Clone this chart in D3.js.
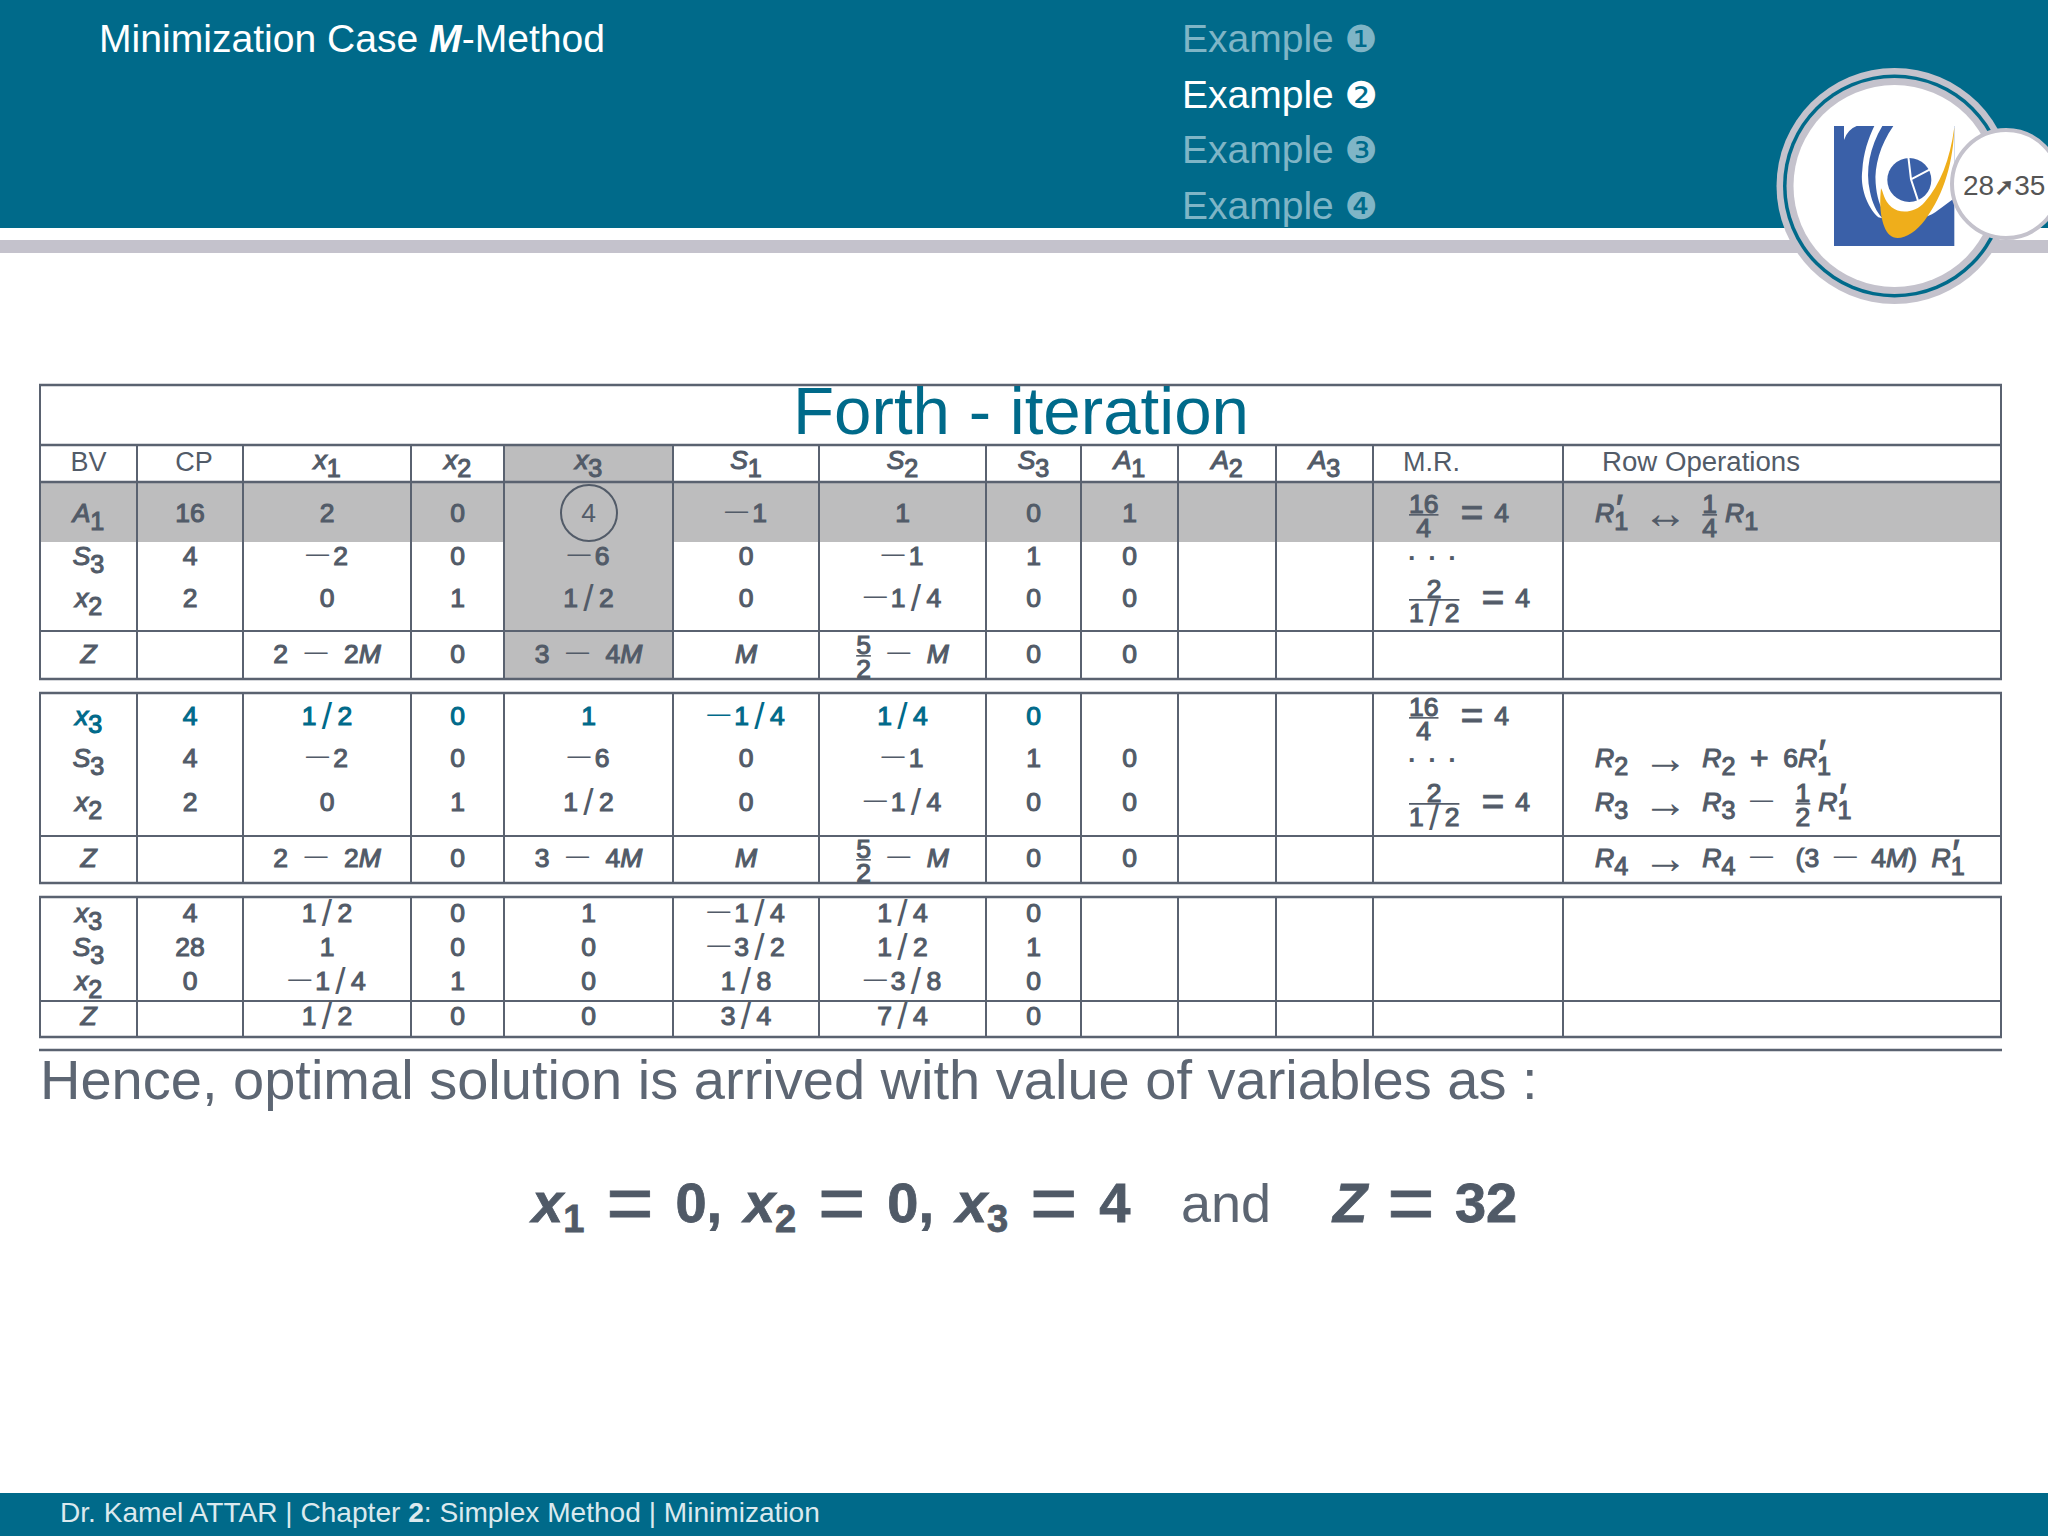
<!DOCTYPE html>
<html><head><meta charset="utf-8">
<script src="https://cdn.jsdelivr.net/npm/d3@7"></script>
<style>html,body{margin:0;padding:0;background:#fff}svg{display:block}</style>
</head><body><svg id="c" width="2048" height="1536"></svg>
<script>
// ---- content ----
const sectionTitle = ["Minimization Case ", "M", "-Method"];
const navItems = [["Example ","❶"],["Example ","❷"],["Example ","❸"],["Example ","❹"]];
const activeNav = 1;
const pageLabel = ["28","➚","35"];
const footerParts = ["Dr. Kamel ATTAR | Chapter ","2",": Simplex Method | Minimization"];
const tableTitle = "Forth - iteration";
const columns = ["BV","CP","x_1","x_2","x_3","S_1","S_2","S_3","A_1","A_2","A_3","M.R.","Row Operations"];
const tableau1 = [
 ["A_1","16","2","0","4","—1","1","0","1","","","{16/4}  = 4","R′_1 ↔ {1/4}~R_1"],
 ["S_3","4","—2","0","—6","0","—1","1","0","","","· · ·",""],
 ["x_2","2","0","1","1/2","0","—1/4","0","0","","","{2/1/2}  = 4",""],
 ["Z","","2 — 2M","0","3 — 4M","M","{5/2} — M","0","0","","","",""]
];
const tableau2 = [
 ["x_3","4","1/2","0","1","—1/4","1/4","0","","","","{16/4}  = 4",""],
 ["S_3","4","—2","0","—6","0","—1","1","0","","","· · ·","R_2 → R_2 + 6R′_1"],
 ["x_2","2","0","1","1/2","0","—1/4","0","0","","","{2/1/2}  = 4","R_3 → R_3 — ~{1/2}~R′_1"],
 ["Z","","2 — 2M","0","3 — 4M","M","{5/2} — M","0","0","","","","R_4 → R_4 — ~(3 — 4M) R′_1"]
];
const tableau3 = [
 ["x_3","4","1/2","0","1","—1/4","1/4","0","","","","",""],
 ["S_3","28","1","0","0","—3/2","1/2","1","","","","",""],
 ["x_2","0","—1/4","1","0","1/8","—3/8","0","","","","",""],
 ["Z","","1/2","0","0","3/4","7/4","0","","","","",""]
];
const conclusion = "Hence, optimal solution is arrived with value of variables as :";
const resultA = "x_1 = 0, x_2 = 0, x_3 = 4";
const resultWord = "and";
const resultB = "Z = 32";

// ---- layout ----
const columnEdges = [40,137,243,411,504,673,819,986,1081,1178,1276,1373,1563,2001];
const headerRowY = 462;
const rowCenters1 = [513,556,598,654];
const rowCenters2 = [716,758,802,858];
const rowCenters3 = [913,947,981,1016];
const teal="#006a8a", ink="#525b68", lineInk="#5a6270", grey="#bdbdbe", barGrey="#c4c2cc";
const FF='"Liberation Sans"';

const svg=d3.select("#c");
const xEdge=d3.scaleOrdinal(d3.range(columnEdges.length),columnEdges);
const xCenter=i=>(xEdge(i)+xEdge(i+1))/2;
const ctx=document.createElement("canvas").getContext("2d");
const widthOf=(s,fs,style="",weight="normal",fam=FF)=>{ctx.font=`${style} ${weight} ${fs}px ${fam}`;return ctx.measureText(s).width;};
const fit=(s,w,weight="normal")=>100*w/widthOf(s,100,"",weight);

// ---- chrome ----
svg.append("rect").attr("width",2048).attr("height",228).attr("fill",teal);
svg.append("rect").attr("y",240).attr("width",2048).attr("height",13).attr("fill",barGrey);
svg.append("rect").attr("y",1493).attr("width",2048).attr("height",43).attr("fill",teal);

const plain=(s,x,y,fs,fill,anchor="start",weight="normal")=>svg.append("text").text(s).attr("x",x).attr("y",y)
  .attr("font-family",FF).attr("font-size",fs).attr("fill",fill).attr("text-anchor",anchor).attr("font-weight",weight);

// section title
const st=svg.append("text").attr("x",99).attr("y",52).attr("font-family",FF).attr("font-size",39.1).attr("fill","#fff");
st.append("tspan").text(sectionTitle[0]);
st.append("tspan").text(sectionTitle[1]).attr("font-style","italic").attr("font-weight","bold");
st.append("tspan").text(sectionTitle[2]);
// nav
const navY=d3.scaleLinear().domain([0,3]).range([52,219]);
navItems.forEach((d,i)=>{
  const t=svg.append("text").attr("x",1182).attr("y",navY(i)).attr("font-family",FF).attr("font-size",39)
    .attr("fill",i===activeNav?"#fff":"#7fb5c6");
  t.append("tspan").text(d[0]);
  t.append("tspan").text(d[1]).attr("font-family",'"DejaVu Sans"').attr("font-size",37);
});
// footer
const ft=svg.append("text").attr("x",60).attr("y",1522).attr("font-family",FF).attr("font-size",28.1).attr("fill","#dbe9ee");
ft.append("tspan").text(footerParts[0]);
ft.append("tspan").text(footerParts[1]).attr("font-weight","bold");
ft.append("tspan").text(footerParts[2]);

// logo
const logo=svg.append("g");
const cx=1894.5,cy=186;
[[118,barGrey],[111.5,teal],[108,barGrey],[101,"#fff"]].forEach(([r,f])=>logo.append("circle").attr("cx",cx).attr("cy",cy).attr("r",r).attr("fill",f));
const lg=logo.append("g").attr("transform","translate(1825,120) scale(0.3333)");
lg.append("rect").attr("x",27).attr("y",18).attr("width",361).attr("height",360).attr("fill","#3a60a8");
lg.append("path").attr("fill","#fff").attr("d","M57,18 L95,18 Q68,28 57,60 Z");
lg.append("path").attr("fill","#fff").attr("d","M148,18 L172,18 C135,80 120,150 135,215 C142,250 155,275 172,295 L160,292 C125,260 105,200 112,150 C115,100 130,55 148,18 Z");
lg.append("path").attr("fill","#fff").attr("d","M205,18 C165,75 148,140 152,190 C155,230 165,260 180,285 L300,292 C330,282 350,262 388,235 L388,18 Z");
lg.append("circle").attr("cx",253).attr("cy",180).attr("r",66).attr("fill","#3a60a8");
lg.append("path").attr("fill","none").attr("stroke","#fff").attr("stroke-width",6).attr("d","M250,110 L258,178 L280,245 M258,178 L315,148");
lg.append("path").attr("fill","#efae1b").attr("d","M388,22 C385,120 360,220 300,300 C270,340 230,362 205,352 C175,340 160,280 168,205 C175,215 175,240 200,262 C225,282 270,280 300,245 C345,195 375,120 388,22 Z");
logo.append("circle").attr("cx",2006).attr("cy",184).attr("r",54).attr("fill","#fff").attr("stroke",barGrey).attr("stroke-width",4);
const pl=svg.append("text").attr("x",1963).attr("y",195).attr("font-family",FF).attr("font-size",28).attr("fill","#555");
pl.append("tspan").text(pageLabel[0]);
pl.append("tspan").text(pageLabel[1]).attr("font-family",'"DejaVu Sans"').attr("font-size",24).attr("stroke","#555").attr("stroke-width",.6);
pl.append("tspan").text(pageLabel[2]);

// ---- highlights ----
svg.append("rect").attr("x",xEdge(0)).attr("y",482).attr("width",xEdge(13)-xEdge(0)).attr("height",60).attr("fill",grey);
svg.append("rect").attr("x",xEdge(4)).attr("y",445).attr("width",xEdge(5)-xEdge(4)).attr("height",234).attr("fill",grey);

// ---- grid ----
const hLine=(y,w=2)=>svg.append("line").attr("x1",xEdge(0)-1).attr("x2",xEdge(13)+1).attr("y1",y).attr("y2",y).attr("stroke",lineInk).attr("stroke-width",w);
const vLine=(x,y1,y2,w=2)=>svg.append("line").attr("x1",x).attr("x2",x).attr("y1",y1).attr("y2",y2).attr("stroke",lineInk).attr("stroke-width",w);
[[385,2.5],[445,2.5],[482,2.5],[631,2],[679,2.5],[693,2.5],[836,2],[883,2.5],[897,2.5],[1001,2],[1037,2.5],[1050,2.5]].forEach(d=>hLine(d[0],d[1]));
[[445,679],[693,883],[897,1037]].forEach(([a,b])=>d3.range(columnEdges.length).forEach(i=>vLine(xEdge(i),a,b)));
vLine(xEdge(0),385,445);vLine(xEdge(13),385,445);

// ---- math text ----
const italics=/[xSARZM]/;
const ops={"=":{k:1.45,plainWeight:1},"→":{k:1.7,thin:1},"↔":{k:1.7,thin:1},"/":{k:1.4,pad:.2,thin:1},"+":{k:1.2},"—":{k:.87,dy:-.08,thin:1}};
function tokens(s){return s.match(/\{[^}]*\}|_\d|′|~|\s+|./g)||[];}
function layout(s,fs,o,x0,y,out){
  let x=x0,lastBase=x0,prime=false;
  const toks=tokens(s);
  toks.forEach((t,i)=>{
    if(t[0]==="{"){
      const inner=t.slice(1,-1),j=inner.indexOf("/");
      const num=inner.slice(0,j),den=inner.slice(j+1);
      const wn=layout(num,fs,o,0,0,[]),wd=layout(den,fs,o,0,0,[]);
      const w=Math.max(wn,wd),bar=y-.26*fs;
      layout(num,fs,o,x+(w-wn)/2,bar-.08*fs,out);
      layout(den,fs,o,x+(w-wd)/2,bar+.84*fs,out);
      out.push({bar:1,x1:x,x2:x+w,y:bar});
      x+=w;
    } else if(t==="~"){ x+=.3*fs; }
    else if(/^\s+$/.test(t)){ x+=t.length*(o.space||.62)*fs; }
    else if(t[0]==="_"){
      const sf=fs*(o.sub||.95), dx=prime?lastBase:x;
      out.push({s:t[1],x:dx,y:y+fs*(o.subDy||.3),fs:sf,w:o.weight});
      x=Math.max(x,dx+widthOf(t[1],sf)); prime=false;
    } else if(t==="′"){
      lastBase=x; out.push({s:"′",x:x,y:y-.02*fs,fs:fs*1.4,it:1,w:o.weight}); x+=.3*fs; prime=true;
    } else if(ops[t]){
      const p=ops[t],sf=fs*p.k,pad=(p.pad||0)*fs;
      out.push({s:t,x:x+pad,y:y+fs*(.36*(p.k-1)+(p.dy||0)),fs:sf,thin:p.thin,w:p.plainWeight?"normal":o.weight});
      x+=widthOf(t,sf)+2*pad;
      if(t==="—"&&toks[i+1]&&/\d/.test(toks[i+1])) x+=.15*fs;
    } else if(italics.test(t)){
      out.push({s:t,x:x,y:y,fs:fs,it:1,w:o.weight});
      x+=widthOf(t,fs,"italic",o.weight);
    } else {
      out.push({s:t,x:x,y:y,fs:fs,w:o.weight});
      x+=widthOf(t,fs,"",o.weight);
    }
    if(t!=="′"&&t[0]!=="_") prime=false;
  });
  return x-x0;
}
function math(s,x,y,fs,fill,o={}){
  if(!s) return;
  const probe=layout(s,fs,o,0,0,[]);
  const start=o.left?x:x-probe/2, out=[];
  layout(s,fs,o,start,y,out);
  const t=svg.append("text").attr("font-family",FF).attr("fill",fill);
  out.filter(d=>!d.bar).forEach(d=>{
    t.append("tspan").text(d.s).attr("x",d.x).attr("y",d.y).attr("font-size",d.fs)
      .attr("font-style",d.it?"italic":"normal").attr("font-weight",d.w||"normal")
      .attr("stroke",(o.stroke&&!d.thin)?fill:"none").attr("stroke-width",o.stroke||0);
  });
  out.filter(d=>d.bar).forEach(d=>svg.append("line").attr("x1",d.x1).attr("x2",d.x2).attr("y1",d.y).attr("y2",d.y).attr("stroke",fill).attr("stroke-width",1.6));
}
const cellFs=26.5, cellOpts={stroke:1.1};
const baseline=c=>c+cellFs*.33;

// title + header
plain(tableTitle,1021,434,fit(tableTitle,456),teal,"middle");
columns.forEach((c,i)=>{
  if(i<2) plain(c,xCenter(i)+(i===0?0:4),headerRowY+9,27,ink,"middle");
  else if(i===11) plain(c,1403,headerRowY+9,27,ink);
  else if(i===12) plain(c,1602,headerRowY+9,fit(c,198),ink);
  else math(c,xCenter(i),headerRowY+7,cellFs,ink,cellOpts);
});

function drawTableau(rows,centers,highlight){
  rows.forEach((row,r)=>{
    row.forEach((cell,i)=>{
      if(!cell) return;
      const fill=(highlight===r&&i<9)?teal:ink, y=baseline(centers[r]);
      if(i===11){
        if(cell.startsWith("·")) plain(cell,1408,y+2,cellFs,fill,"start","bold").attr("letter-spacing",2);
        else math(cell,1409,y,cellFs,fill,{...cellOpts,left:true,space:.42});
      } else if(i===12){
        math(cell,1595,y,cellFs,fill,{...cellOpts,left:true,space:.55});
      } else if(rows===tableau1&&r===0&&i===4){
        math(cell,xCenter(i),y,cellFs,fill,{});
      } else {
        math(cell,xCenter(i),y,cellFs,fill,cellOpts);
      }
    });
  });
}
drawTableau(tableau1,rowCenters1,-1);
drawTableau(tableau2,rowCenters2,0);
drawTableau(tableau3,rowCenters3,-1);
svg.append("circle").attr("cx",589).attr("cy",513).attr("r",28).attr("fill","none").attr("stroke",ink).attr("stroke-width",2);

// conclusion
plain(conclusion,40,1099,fit(conclusion,1498),"#5d6673");
math(resultA,532,1222,56,"#505a67",{left:true,weight:"bold",sub:.68,subDy:.18,space:.39,stroke:.8});
plain(resultWord,1181,1222,54,"#5d6673");
math(resultB,1333,1222,56,"#505a67",{left:true,weight:"bold",space:.36,stroke:.8});
</script></body></html>
